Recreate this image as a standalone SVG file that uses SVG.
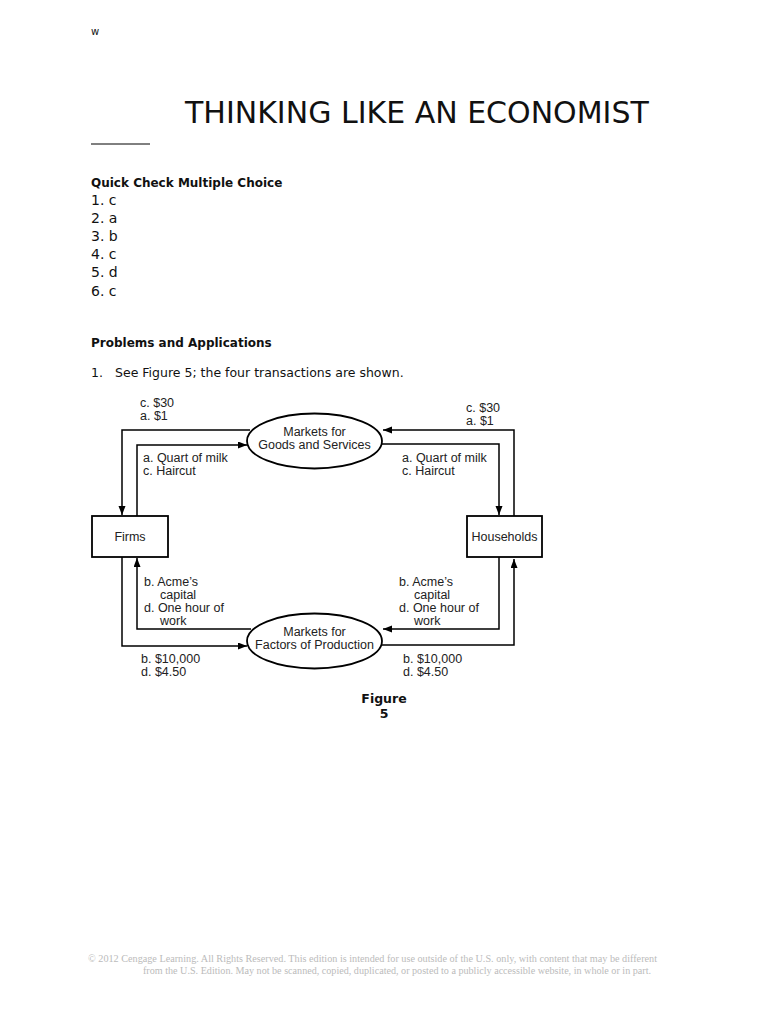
<svg xmlns="http://www.w3.org/2000/svg" width="768" height="1024" viewBox="0 0 768 1024">
<style>
.pg{font-family:"DejaVu Sans",Verdana,sans-serif;fill:#111}
.b{font-weight:bold}
.lb{font-family:"Liberation Sans",Arial,sans-serif;font-size:12.5px;fill:#222}
.nd{font-family:"Liberation Sans",Arial,sans-serif;font-size:12.5px;fill:#222;text-anchor:middle}
.shape{fill:#fff;stroke:#000;stroke-width:1.8}
.con{fill:none;stroke:#000;stroke-width:1.5}
.ft{font-family:"Liberation Serif","Times New Roman",serif;font-size:10px;fill:#bbb}
</style>
<defs>
<marker id="ah" markerUnits="userSpaceOnUse" markerWidth="10" markerHeight="8" refX="9" refY="3.5" orient="auto">
<path d="M0,0 L9,3.5 L0,7 z" fill="#000"/>
</marker>
</defs>
<rect width="768" height="1024" fill="#fff"/>
<text class="pg" x="91" y="35" font-size="10">w</text>
<text class="pg" x="185" y="123" font-size="30">THINKING LIKE AN ECONOMIST</text>
<line x1="91" y1="144" x2="150" y2="144" stroke="#000" stroke-width="1"/>
<text class="pg b" x="91" y="187" font-size="12">Quick Check Multiple Choice</text>
<g class="pg" font-size="14" fill="#222">
<text x="91" y="205">1. c</text>
<text x="91" y="223">2. a</text>
<text x="91" y="241">3. b</text>
<text x="91" y="259">4. c</text>
<text x="91" y="277">5. d</text>
<text x="91" y="296">6. c</text>
</g>
<text class="pg b" x="91" y="347" font-size="12">Problems and Applications</text>
<text class="pg" x="91" y="377" font-size="12.5" fill="#222">1.</text>
<text class="pg" x="115" y="377" font-size="12.5" fill="#222">See Figure 5; the four transactions are shown.</text>

<g id="connectors">
<path class="con" d="M250,430 H122 V515" marker-end="url(#ah)"/>
<path class="con" d="M137,516 V445 H247" marker-end="url(#ah)"/>
<path class="con" d="M514,516 V430 H383" marker-end="url(#ah)"/>
<path class="con" d="M381,444 H499 V515" marker-end="url(#ah)"/>
<path class="con" d="M122,557 V646 H247" marker-end="url(#ah)"/>
<path class="con" d="M251,629 H137 V558" marker-end="url(#ah)"/>
<path class="con" d="M499,557 V629 H383" marker-end="url(#ah)"/>
<path class="con" d="M381,645 H514 V559" marker-end="url(#ah)"/>
</g>

<g id="goods-market">
<ellipse class="shape" cx="314.5" cy="441" rx="67.5" ry="27.5"/>
<text class="nd" x="314.5" y="436">Markets for</text>
<text class="nd" x="314.5" y="449">Goods and Services</text>
</g>
<g id="factor-market">
<ellipse class="shape" cx="314.5" cy="641" rx="67.5" ry="27.5"/>
<text class="nd" x="314.5" y="636">Markets for</text>
<text class="nd" x="314.5" y="649">Factors of Production</text>
</g>
<g id="firms">
<rect class="shape" x="92" y="516" width="76" height="41"/>
<text class="nd" x="130" y="541">Firms</text>
</g>
<g id="households">
<rect class="shape" x="467" y="516" width="75" height="41"/>
<text class="nd" x="504.5" y="541">Households</text>
</g>

<g id="labels">
<text class="lb" x="140" y="407">c. $30</text>
<text class="lb" x="140" y="420">a. $1</text>
<text class="lb" x="143" y="462">a. Quart of milk</text>
<text class="lb" x="143" y="475">c. Haircut</text>
<text class="lb" x="466" y="412">c. $30</text>
<text class="lb" x="466" y="425">a. $1</text>
<text class="lb" x="402" y="462">a. Quart of milk</text>
<text class="lb" x="402" y="475">c. Haircut</text>
<text class="lb" x="144" y="586">b. Acme’s</text>
<text class="lb" x="160" y="599">capital</text>
<text class="lb" x="144" y="612">d. One hour of</text>
<text class="lb" x="160" y="625">work</text>
<text class="lb" x="399" y="586">b. Acme’s</text>
<text class="lb" x="414" y="599">capital</text>
<text class="lb" x="399" y="612">d. One hour of</text>
<text class="lb" x="414" y="625">work</text>
<text class="lb" x="141" y="663">b. $10,000</text>
<text class="lb" x="141" y="676">d. $4.50</text>
<text class="lb" x="403" y="663">b. $10,000</text>
<text class="lb" x="403" y="676">d. $4.50</text>
</g>

<text class="pg b" x="384" y="703" font-size="12.5" text-anchor="middle">Figure</text>
<text class="pg b" x="384" y="718" font-size="12.5" text-anchor="middle">5</text>

<text class="ft" x="88" y="962" textLength="569" lengthAdjust="spacingAndGlyphs">© 2012 Cengage Learning. All Rights Reserved. This edition is intended for use outside of the U.S. only, with content that may be different</text>
<text class="ft" x="143" y="974" textLength="508" lengthAdjust="spacingAndGlyphs">from the U.S. Edition. May not be scanned, copied, duplicated, or posted to a publicly accessible website, in whole or in part.</text>
</svg>
